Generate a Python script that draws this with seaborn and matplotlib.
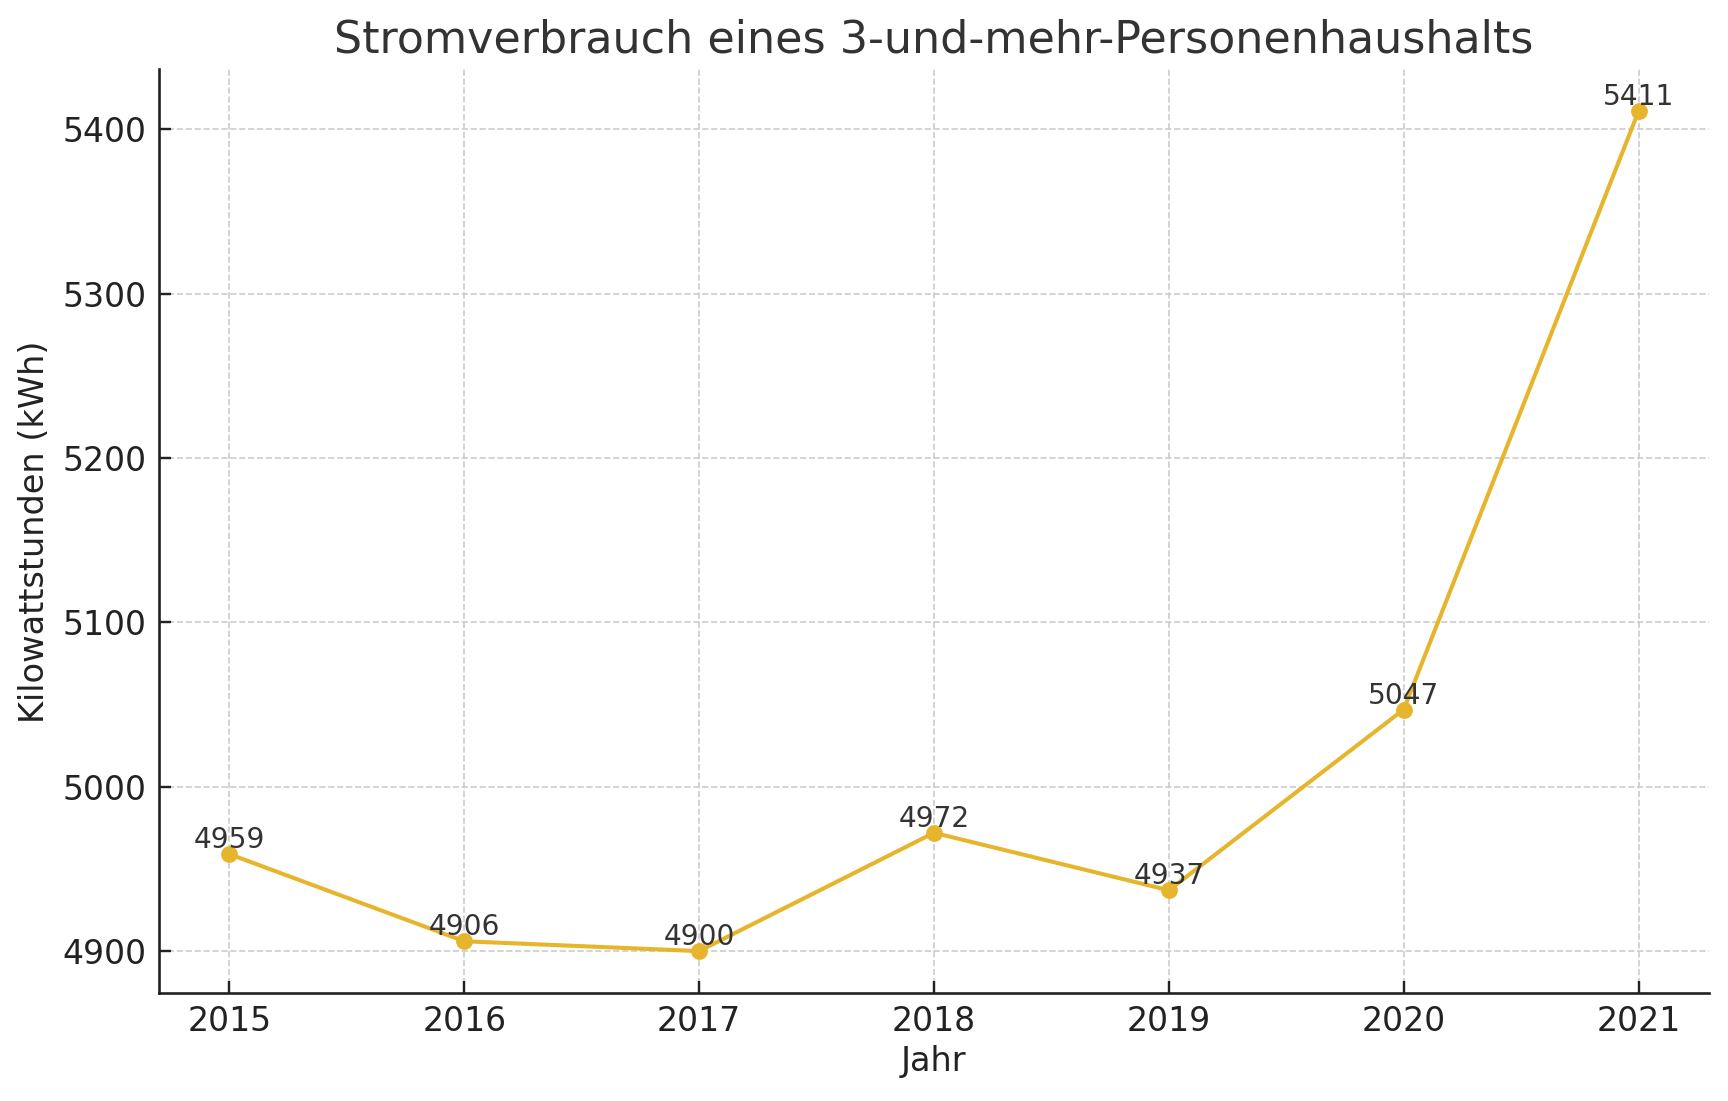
import matplotlib
matplotlib.use("Agg")
import matplotlib.pyplot as plt
import seaborn as sns
import pandas as pd

# Daten
jahre = [2015, 2016, 2017, 2018, 2019, 2020, 2021]
verbrauch = [4959, 4906, 4900, 4972, 4937, 5047, 5411]
y_ticks = [4900, 5000, 5100, 5200, 5300, 5400]

df = pd.DataFrame({"Jahr": jahre, "Verbrauch": verbrauch})

sns.set_style("ticks")
plt.rcParams["font.family"] = ["DejaVu Sans"]

fig, ax = plt.subplots(figsize=(10, 6.372), dpi=172.8)
fig.subplots_adjust(left=0.092, right=0.989, top=0.937, bottom=0.098)

farbe = "#e6b52c"
sns.lineplot(data=df, x="Jahr", y="Verbrauch", ax=ax, color=farbe,
             marker="o", markersize=7, markeredgewidth=0, linewidth=1.7)

# Werte an den Punkten
for j, v in zip(jahre, verbrauch):
    ax.annotate(str(v), (j, v), textcoords="offset points", xytext=(0, 0),
                ha="center", va="bottom", fontsize=11.7, color="#333333")

ax.set_title("Stromverbrauch eines 3-und-mehr-Personenhaushalts",
             fontsize=18.5, color="#333333", pad=7)
ax.set_xlabel("Jahr", fontsize=14, color="#222222", labelpad=3)
ax.set_ylabel("Kilowattstunden (kWh)", fontsize=14, color="#222222", labelpad=5)

ax.set_xticks(jahre)
ax.set_yticks(y_ticks)
ax.tick_params(direction="in", length=5, width=1, labelsize=13.8,
               colors="#222222", pad=5)
ax.grid(True, linestyle="--", color="#cccccc", linewidth=0.7)

for s in ["top", "right"]:
    ax.spines[s].set_visible(False)
for s in ["left", "bottom"]:
    ax.spines[s].set_linewidth(1.1)
    ax.spines[s].set_color("#222222")

fig.savefig("out.png", dpi=172.8)
